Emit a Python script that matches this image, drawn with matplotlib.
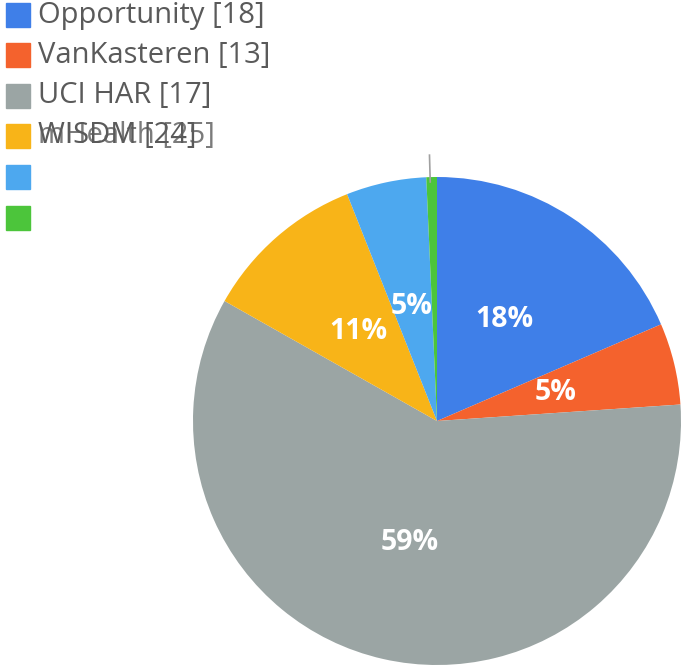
import matplotlib.pyplot as plt
from matplotlib.patches import Rectangle
import numpy as np

labels = ["Opportunity [18]", "VanKasteren [13]", "UCI HAR [17]", "WISDM [24]", "", ""]
overlap_label = "mHealth [25]"
shares = [18.5, 5.4, 59.2, 10.8, 5.3, 0.7]
pct_text = ["18%", "5%", "59%", "11%", "5%", ""]
colors = ["#3f7fe8", "#f4622d", "#9ba5a4", "#f8b418", "#4da8ef", "#4cc53b"]

W, H = 685, 666
fig = plt.figure(figsize=(W / 100, H / 100), dpi=100)

cx, cy, r = 437, 421, 244
ax = fig.add_axes([(cx - r) / W, (H - cy - r) / H, 2 * r / W, 2 * r / H])
wedges, _ = ax.pie(shares, colors=colors, startangle=90, counterclock=False,
                   wedgeprops=dict(linewidth=0))
ax.set_xlim(-1, 1)
ax.set_ylim(-1, 1)
ax.set_aspect("equal")
ax.axis("off")

# percentage labels
label_r = [0.5, 0.5, 0.51, 0.49, 0.48, 0]
angles = []
start = 90.0
for s in shares:
    span = s / 100 * 360
    angles.append(start - span / 2)
    start -= span
for t, a, lr in zip(pct_text, angles, label_r):
    if t:
        ax.text(lr * np.cos(np.radians(a)), lr * np.sin(np.radians(a)), t,
                ha="center", va="center", color="white", fontsize=20.5,
                fontweight="bold", family="Open Sans")

# leader line for the tiny slice
a = np.radians(angles[-1])
ax.plot([0.98 * np.cos(a), 1.09 * np.cos(a)], [0.98 * np.sin(a), 1.09 * np.sin(a)],
        color="#a0a0a0", lw=1.2, clip_on=False)

# legend
row_y = [15, 55, 96, 136, 177, 218]
for lab, c, y in zip(labels, colors, row_y):
    fig.add_artist(Rectangle((6 / W, (H - y - 12) / H), 24 / W, 24 / H,
                             transform=fig.transFigure, color=c))
    fig.text(38 / W, (H - y) / H, lab, ha="left", va="center", fontsize=21,
             color="#5a5a5a", family="Open Sans")
fig.text(38 / W, (H - row_y[3]) / H, overlap_label, ha="left", va="center",
         fontsize=21, color="#5a5a5a", family="Open Sans", alpha=0.8)

fig.savefig("out.png", dpi=100)
